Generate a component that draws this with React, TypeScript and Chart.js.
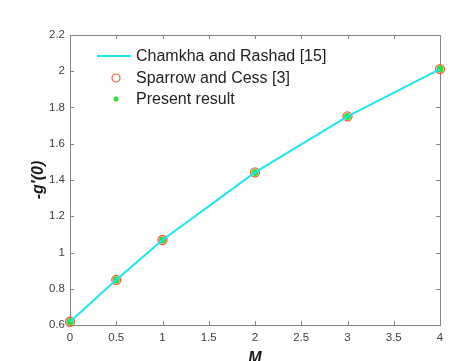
import React, { useEffect, useRef } from "react";
import { Chart, registerables } from "chart.js";

Chart.register(...registerables);

const mValues = [0, 0.5, 1, 2, 3, 4];
const chamkhaRashad = [0.618, 0.849, 1.069, 1.442, 1.751, 2.012];
const sparrowCess = [0.618, 0.849, 1.069, 1.442, 1.751, 2.012];
const presentResult = [0.618, 0.849, 1.069, 1.442, 1.751, 2.012];
const legendLabels = ["Chamkha and Rashad [15]", "Sparrow and Cess [3]", "Present result"];
const xTitle = "M";
const yTitle = "-g'(0)";

const FONT = '"Liberation Sans", Arial, sans-serif';
const CYAN = "#22e4ec";
const RED = "#e8603c";
const GREEN = "#36d83a";
const AXIS = "#858585";

const toXY = (ys: number[]) => mValues.map((x, i) => ({ x, y: ys[i] }));

const framePlugin = {
  id: "frame",
  beforeDatasetsDraw(chart: any) {
    const { ctx, chartArea: a, scales } = chart;
    ctx.save();
    ctx.strokeStyle = AXIS;
    ctx.lineWidth = 1;
    ctx.strokeRect(Math.round(a.left) + 0.5, Math.round(a.top) + 0.5, Math.round(a.right - a.left), Math.round(a.bottom - a.top));
    const L = 4;
    ctx.beginPath();
    scales.x.ticks.forEach((t: any) => {
      const px = Math.round(scales.x.getPixelForValue(t.value)) + 0.5;
      ctx.moveTo(px, a.bottom);
      ctx.lineTo(px, a.bottom - L);
      ctx.moveTo(px, a.top);
      ctx.lineTo(px, a.top + L);
    });
    scales.y.ticks.forEach((t: any) => {
      const py = Math.round(scales.y.getPixelForValue(t.value)) + 0.5;
      ctx.moveTo(a.left, py);
      ctx.lineTo(a.left + L, py);
      ctx.moveTo(a.right, py);
      ctx.lineTo(a.right - L, py);
    });
    ctx.stroke();
    ctx.restore();
  },
  afterDraw(chart: any) {
    const { ctx, chartArea: a } = chart;
    ctx.save();
    // legend
    ctx.font = `16px ${FONT}`;
    ctx.fillStyle = "#222";
    ctx.textBaseline = "middle";
    ctx.textAlign = "left";
    const lx = 136;
    const rows = [56, 78, 99];
    ctx.strokeStyle = CYAN;
    ctx.lineWidth = 2;
    ctx.beginPath();
    ctx.moveTo(97, rows[0]);
    ctx.lineTo(131, rows[0]);
    ctx.stroke();
    ctx.strokeStyle = RED;
    ctx.lineWidth = 1.2;
    ctx.beginPath();
    ctx.arc(116, rows[1], 4, 0, Math.PI * 2);
    ctx.stroke();
    ctx.fillStyle = GREEN;
    ctx.beginPath();
    ctx.arc(116, rows[2], 2.5, 0, Math.PI * 2);
    ctx.fill();
    ctx.fillStyle = "#222";
    legendLabels.forEach((s, i) => ctx.fillText(s, lx, rows[i] + 1));
    // axis titles
    ctx.font = `italic bold 16px ${FONT}`;
    ctx.fillStyle = "#1a1a1a";
    ctx.textAlign = "center";
    ctx.textBaseline = "alphabetic";
    ctx.fillText(xTitle, (a.left + a.right) / 2, 363);
    ctx.translate(43, (a.top + a.bottom) / 2);
    ctx.rotate(-Math.PI / 2);
    ctx.fillText(yTitle, 0, 0);
    ctx.restore();
  },
};

export default function App() {
  const ref = useRef<HTMLCanvasElement>(null);
  useEffect(() => {
    document.body.style.margin = "0";
    const chart = new Chart(ref.current!, {
      type: "scatter",
      data: {
        datasets: [
          {
            label: legendLabels[0],
            data: toXY(chamkhaRashad),
            showLine: true,
            borderColor: CYAN,
            borderWidth: 2,
            pointRadius: 0,
            fill: false,
            clip: false as any,
          },
          {
            label: legendLabels[2],
            data: toXY(presentResult),
            pointStyle: "circle",
            pointRadius: 3.5,
            backgroundColor: GREEN,
            borderColor: GREEN,
            borderWidth: 0,
            clip: false as any,
          },
          {
            label: legendLabels[1],
            data: toXY(sparrowCess),
            pointStyle: "circle",
            pointRadius: 4.5,
            backgroundColor: "rgba(0,0,0,0)",
            borderColor: RED,
            borderWidth: 1.3,
            clip: false as any,
          },
        ],
      },
      options: {
        animation: false,
        responsive: false,
        layout: { padding: { left: 0, right: 34, top: 35, bottom: 0 } },
        plugins: { legend: { display: false }, tooltip: { enabled: false } },
        scales: {
          x: {
            type: "linear",
            min: 0,
            max: 4,
            grid: { display: false, drawTicks: false },
            border: { display: false },
            ticks: {
              stepSize: 0.5,
              padding: 6,
              color: "#404040",
              font: { family: FONT, size: 11.5 },
              callback: (v: any) => String(Number(Number(v).toFixed(1))),
            },
            afterFit: (s: any) => {
              s.height = 36;
            },
          },
          y: {
            type: "linear",
            min: 0.6,
            max: 2.2,
            grid: { display: false, drawTicks: false },
            border: { display: false },
            ticks: {
              stepSize: 0.2,
              padding: 5,
              color: "#404040",
              font: { family: FONT, size: 11.5 },
              callback: (v: any) => String(Number(Number(v).toFixed(1))),
            },
            afterFit: (s: any) => {
              s.width = 70;
            },
          },
        },
      },
      plugins: [framePlugin],
    });
    return () => chart.destroy();
  }, []);
  return (
    <div style={{ position: "absolute", left: 0, top: 0, width: 474, height: 361, background: "#fff" }}>
      <canvas ref={ref} width={474} height={361} />
    </div>
  );
}
